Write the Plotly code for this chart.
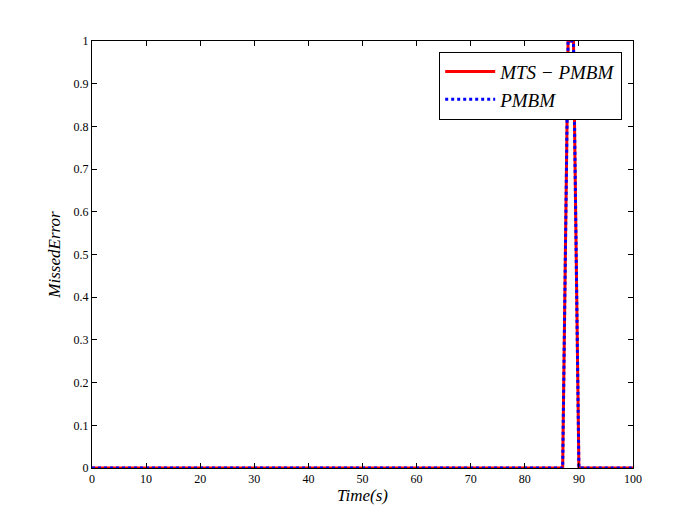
import plotly.graph_objects as go

time = list(range(0, 101))
mts = [0]*88 + [1, 1] + [0]*11
pmbm = [0]*88 + [1, 1] + [0]*11

fig = go.Figure()
fig.add_trace(go.Scatter(x=time, y=mts, mode="lines", name="<i>MTS − PMBM</i>",
                         line=dict(color="#ff0000", width=3)))
fig.add_trace(go.Scatter(x=time, y=pmbm, mode="lines", name="<i>PMBM</i>",
                         line=dict(color="#0000ff", width=3, dash="dot")))
ax = dict(showline=True, linecolor="black", linewidth=1, mirror="ticks", ticks="inside",
          ticklen=5, tickcolor="black", showgrid=False, zeroline=False,
          tickfont=dict(family="Liberation Serif", size=12, color="black"))
fig.update_layout(
    width=700, height=525, paper_bgcolor="white", plot_bgcolor="white",
    margin=dict(l=84, r=75, t=33, b=65),
    font=dict(family="Liberation Serif", color="black"),
    xaxis=dict(range=[0, 100], dtick=10, title=dict(text="<i>Time(s)</i>", font=dict(size=17), standoff=2), **ax),
    yaxis=dict(range=[0, 1], dtick=0.1, title=dict(text="<i>MissedError</i>", font=dict(size=17), standoff=8), **ax),
    legend=dict(x=0.98, y=0.975, xanchor="right", yanchor="top", bgcolor="white",
                bordercolor="black", borderwidth=1, font=dict(size=19), tracegroupgap=0,
                itemwidth=50),
    showlegend=True,
)
fig.write_html("out.html")
